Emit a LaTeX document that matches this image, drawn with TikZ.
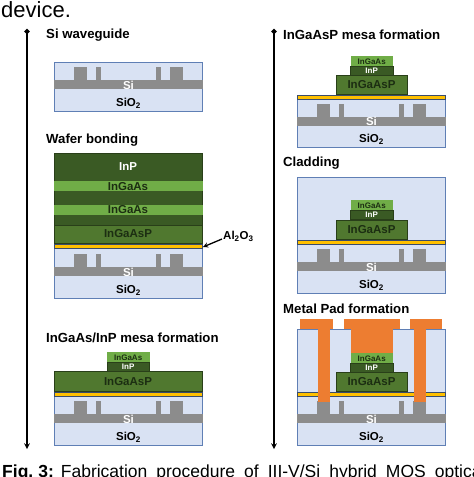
\documentclass[tikz,border=0pt]{standalone}
\usepackage{fontspec}
\usetikzlibrary{arrows.meta}
\setmainfont{Liberation Sans}
\definecolor{cladblue}{HTML}{D9E2F3}
\definecolor{edgeblue}{HTML}{5F7FB5}
\definecolor{sigrey}{HTML}{8C8C8C}
\definecolor{inpgreen}{HTML}{3A5A24}
\definecolor{quatgreen}{HTML}{50782F}
\definecolor{ingaasgreen}{HTML}{70AD47}
\definecolor{labelgreen}{HTML}{1C2E12}
\definecolor{bondyellow}{HTML}{FFC000}
\definecolor{metalorange}{HTML}{ED7D31}
\tikzset{
  steptitle/.style={anchor=west, font=\fontsize{13.2}{15}\selectfont\bfseries},
  biglabel/.style={font=\fontsize{11.5}{13}\selectfont\bfseries},
  smalllabel/.style={font=\fontsize{8}{9}\selectfont\bfseries},
  timeline/.style={{Circle[length=5pt]}->, line width=1.5pt},
  cladbox/.style={fill=cladblue, draw=edgeblue, line width=0.8pt},
  silayer/.style={fill=sigrey},
  inplayer/.style={fill=inpgreen, draw=inpgreen!70!black, line width=0.6pt},
  quatlayer/.style={fill=quatgreen, draw=inpgreen!70!black, line width=0.6pt},
  ingaaslayer/.style={fill=ingaasgreen},
  bondlayer/.style={fill=bondyellow, draw=edgeblue!60!black, line width=0.4pt},
  metal/.style={fill=metalorange}
}
% #1 name prefix, #2 left edge, #3 top of box, #4 top of ridges
\newcommand{\siwaveguide}[4]{
  \fill[cladbox] (#2,#3) rectangle (#2+148.5,#4+44);
  \begin{scope}[shift={(#2,#4)}]
    \fill[silayer] (0,13) rectangle (148.5,22);
    \fill[silayer] (20,0) rectangle (33,13);
    \fill[silayer] (42,0) rectangle (47,13);
    \fill[silayer] (102,0) rectangle (107,13);
    \fill[silayer] (116,0) rectangle (129,13);
    \node[biglabel, text=white] (#1si) at (74.5,18) {Si};
    \node[biglabel] (#1sio) at (74.5,36) {SiO\textsubscript{2}};
  \end{scope}
}
% #1 name prefix, #2 left edge of the small mesa, #3 top of the mesa
\newcommand{\smallmesa}[3]{
  \fill[ingaaslayer] (#2,#3) rectangle (#2+42.5,#3+10.5);
  \fill[inplayer] (#2,#3+10.5) rectangle (#2+42.5,#3+19.5);
  \node[smalllabel, text=labelgreen] (#1ingaas) at (#2+21.2,#3+5.5) {InGaAs};
  \node[smalllabel, text=white] (#1inp) at (#2+21.2,#3+15) {InP};
}
\begin{document}
\begin{tikzpicture}[x=1pt, y=-1pt, >=stealth]
\useasboundingbox (0,0) rectangle (474,477);

\node[anchor=base west, font=\fontsize{22}{24}\selectfont, inner sep=0pt] (device) at (1,17) {device.};
\node[anchor=base west, font=\fontsize{17.5}{20}\selectfont, inner sep=0pt] (caption) at (2,477.5)
  {\spaceskip=9pt \textbf{Fig.\hspace{5pt}3:}\hspace{7pt}Fabrication procedure of III-V/Si hybrid MOS optical};

\coordinate (leftstart) at (27,29);
\coordinate (leftend) at (27,449);
\coordinate (rightstart) at (274,29);
\coordinate (rightend) at (274,449);
\draw[timeline] (leftstart) -- (leftend);
\draw[timeline] (rightstart) -- (rightend);

% left column
\node[steptitle, inner sep=0pt] (title1) at (46,35) {Si waveguide};
\siwaveguide{a}{54}{62.5}{67}

\node[steptitle, inner sep=0pt] (title2) at (46,140) {Wafer bonding};
\siwaveguide{b}{54}{248}{254}
\fill[inplayer] (54,153) rectangle (202.5,225);
\fill[ingaaslayer] (54,181) rectangle (202.5,191);
\fill[ingaaslayer] (54,205) rectangle (202.5,215);
\fill[quatlayer] (54,225) rectangle (202.5,243.5);
\fill[bondlayer] (54,244) rectangle (202.5,248.5);
\node[biglabel, text=white] (binp) at (128,167) {InP};
\node[biglabel, text=labelgreen] (bingaas1) at (128,186.5) {InGaAs};
\node[biglabel, text=labelgreen] (bingaas2) at (128,210) {InGaAs};
\node[biglabel, text=labelgreen] (bquat) at (128,234) {InGaAsP};
\node[biglabel, anchor=west, inner sep=0pt] (oxide) at (223,236) {Al\textsubscript{2}O\textsubscript{3}};
\coordinate (bondedge) at (203,247);
\draw[->, line width=1.3pt] (oxide.west) ++(-1,3) -- (bondedge);

\node[steptitle, inner sep=0pt] (title3) at (46,338) {InGaAs/InP mesa formation};
\siwaveguide{c}{54}{396}{401}
\smallmesa{c}{107}{352}
\fill[quatlayer] (54,371.5) rectangle (202.5,391.5);
\fill[bondlayer] (54,392) rectangle (202.5,396.5);
\node[biglabel, text=labelgreen] (cquat) at (128,382) {InGaAsP};

% right column
\node[steptitle, inner sep=0pt] (title4) at (283,35) {InGaAsP mesa formation};
\siwaveguide{d}{297}{95}{103.5}
\smallmesa{d}{350.5}{56}
\fill[quatlayer] (336,75.5) rectangle (407,94.5);
\fill[bondlayer] (297,95) rectangle (445.5,99);
\node[biglabel, text=labelgreen] (dquat) at (371.5,85) {InGaAsP};

\node[steptitle, inner sep=0pt] (title5) at (283,163) {Cladding};
\siwaveguide{e}{297}{177}{249}
\smallmesa{e}{350.5}{200}
\fill[quatlayer] (336,220) rectangle (407,239.5);
\fill[bondlayer] (297,240) rectangle (445.5,244);
\node[biglabel, text=labelgreen] (equat) at (371.5,230) {InGaAsP};

\node[steptitle, inner sep=0pt] (title6) at (283,309) {Metal Pad formation};
\siwaveguide{f}{297}{329}{401}
\smallmesa{f}{350.5}{353}
\fill[quatlayer] (336,372.5) rectangle (407,391.5);
\fill[bondlayer] (297,392) rectangle (445.5,396);
\node[biglabel, text=labelgreen] (fquat) at (371.5,382) {InGaAsP};
\fill[metal] (300,319) rectangle (333,329);
\fill[metal] (344,319) rectangle (400,329);
\fill[metal] (410,319) rectangle (442,329);
\fill[metal] (350.5,329) rectangle (393,353);
\fill[metal] (317.5,329) rectangle (329.5,402);
\fill[metal] (414,329) rectangle (425.5,402);
\end{tikzpicture}
\end{document}
